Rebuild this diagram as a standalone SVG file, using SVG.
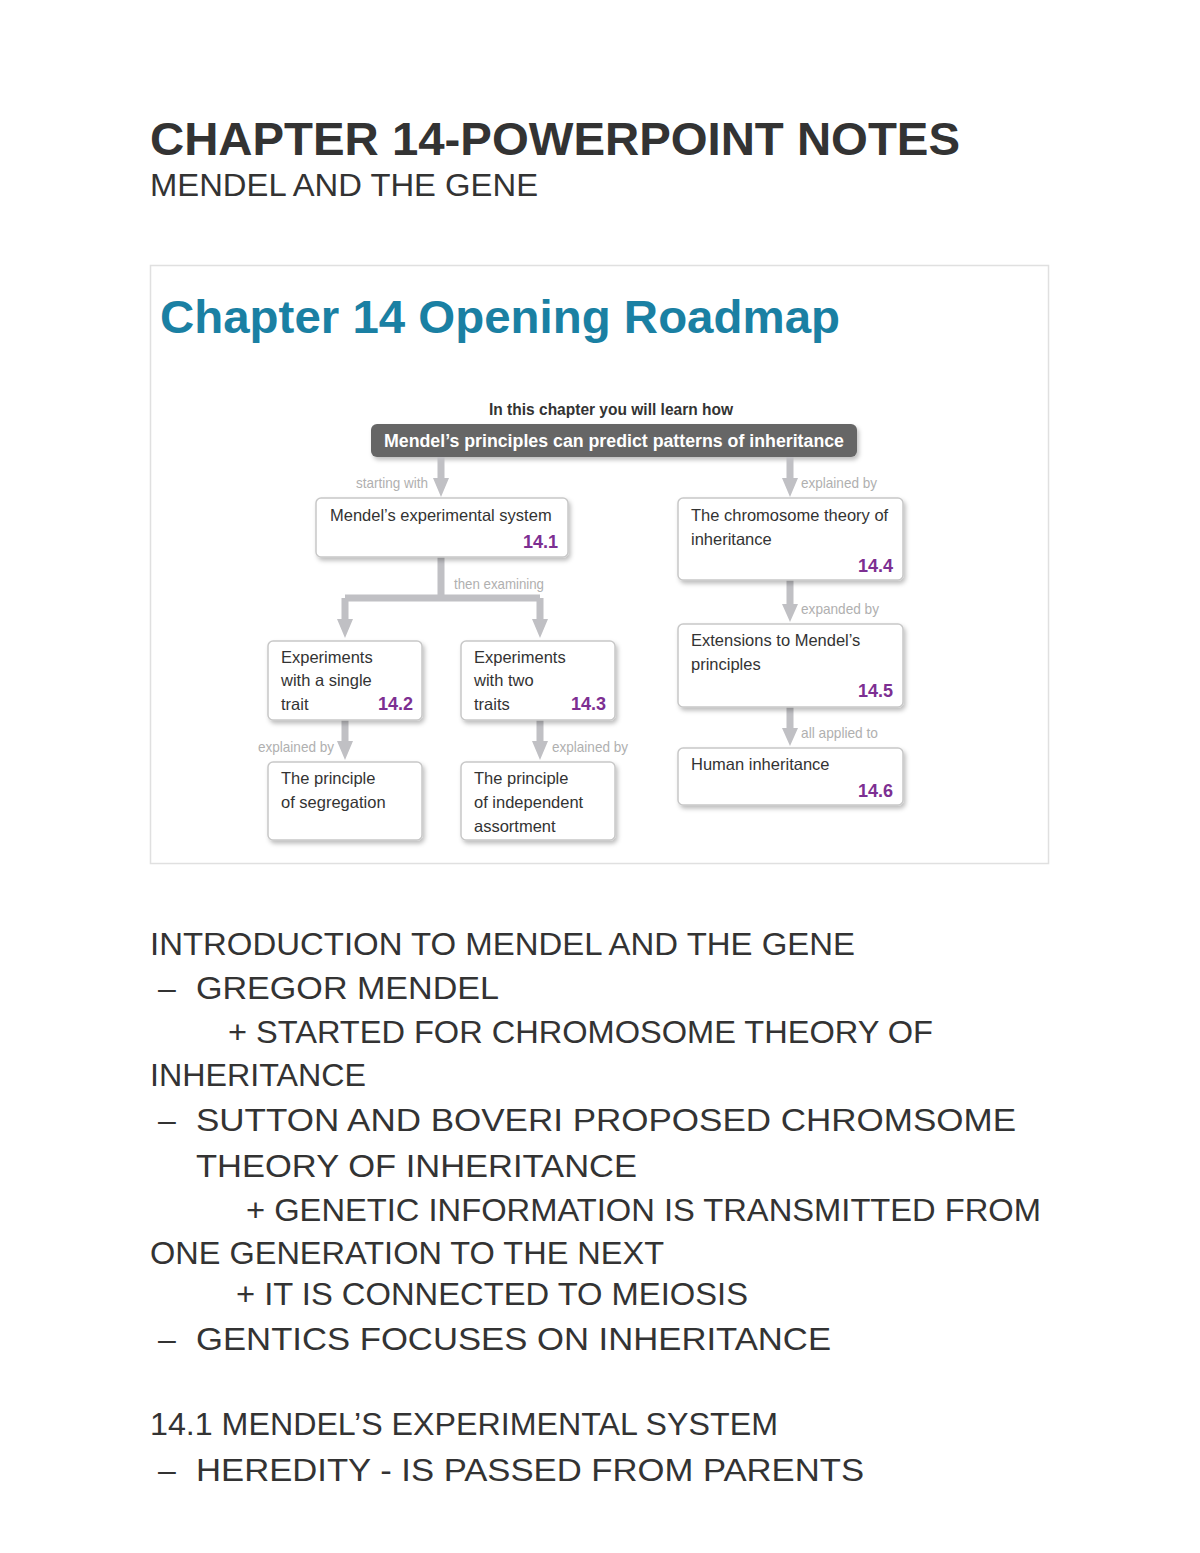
<svg xmlns="http://www.w3.org/2000/svg" width="1200" height="1553" viewBox="0 0 1200 1553">
<style>
.h{font-family:"Liberation Sans",Arial,sans-serif;fill:#333}
.b{font-family:"Liberation Sans",Arial,sans-serif;font-size:32px;fill:#333}
.n{font-family:"Liberation Sans",Arial,sans-serif;font-size:16.5px;fill:#333}
.num{font-family:"Liberation Sans",Arial,sans-serif;font-size:18px;font-weight:bold;fill:#7d2f92;text-anchor:end}
.lab{font-family:"Liberation Sans",Arial,sans-serif;font-size:15px;fill:#b0b0b0}
.box{fill:#fff;stroke:#c8c8c8;stroke-width:1.5;filter:url(#sh)}
.ln{stroke:#c0c0c4;stroke-width:7;fill:none}
.ah{fill:#c0c0c4}
</style>
<defs>
<filter id="sh" x="-10%" y="-10%" width="130%" height="140%"><feDropShadow dx="2" dy="3" stdDeviation="2" flood-color="#000" flood-opacity="0.25"/></filter>
</defs>
<rect width="1200" height="1553" fill="#fff"/>
<text class="h" x="150" y="155" font-size="46" font-weight="bold" textLength="810" lengthAdjust="spacingAndGlyphs">CHAPTER 14-POWERPOINT NOTES</text>
<text class="h" x="150" y="196" font-size="31" textLength="388" lengthAdjust="spacingAndGlyphs">MENDEL AND THE GENE</text>
<rect x="150.5" y="265.5" width="898" height="598" fill="#fff" stroke="#e0e0e0" stroke-width="1.5"/>
<text x="160" y="333" font-family="Liberation Sans,Arial,sans-serif" font-size="46" font-weight="bold" fill="#1a80a3" textLength="680" lengthAdjust="spacingAndGlyphs">Chapter 14 Opening Roadmap</text>
<text x="611" y="415" font-family="Liberation Sans,Arial,sans-serif" font-size="16" font-weight="bold" fill="#333" text-anchor="middle" textLength="244" lengthAdjust="spacingAndGlyphs">In this chapter you will learn how</text>
<g id="top"><rect x="371" y="424" width="486" height="33" rx="6" fill="#666" filter="url(#sh)"/>
<text x="614" y="447" font-family="Liberation Sans,Arial,sans-serif" font-size="18" font-weight="bold" fill="#fff" text-anchor="middle" textLength="460" lengthAdjust="spacingAndGlyphs">Mendel’s principles can predict patterns of inheritance</text></g>
<g id="connectors">
<path class="ln" d="M441 457V482M790 457V482M441 557V598M345 598H540M345 598V622M540 598V622M790 580V606M790 707V730M345 720V744M540 720V744"/>
<path class="ah" d="M433 478H449L441 497ZM782 478H798L790 497ZM337 619H353L345 638ZM532 619H548L540 638ZM782 604H798L790 622ZM782 728H798L790 746ZM337 741H353L345 760ZM532 741H548L540 760Z"/>
<text class="lab" x="428" y="488" text-anchor="end" textLength="72" lengthAdjust="spacingAndGlyphs">starting with</text>
<text class="lab" x="801" y="488" textLength="76" lengthAdjust="spacingAndGlyphs">explained by</text>
<text class="lab" x="454" y="589" textLength="90" lengthAdjust="spacingAndGlyphs">then examining</text>
<text class="lab" x="801" y="614" textLength="78" lengthAdjust="spacingAndGlyphs">expanded by</text>
<text class="lab" x="801" y="738" textLength="77" lengthAdjust="spacingAndGlyphs">all applied to</text>
<text class="lab" x="334" y="752" text-anchor="end" textLength="76" lengthAdjust="spacingAndGlyphs">explained by</text>
<text class="lab" x="552" y="752" textLength="76" lengthAdjust="spacingAndGlyphs">explained by</text>
</g>
<g id="n141"><rect class="box" x="316" y="498" width="252" height="59" rx="5"/><text class="n" x="330" y="521">Mendel’s experimental system</text><text class="num" x="558" y="548">14.1</text></g>
<g id="n144"><rect class="box" x="678" y="498" width="225" height="82" rx="5"/><text class="n" x="691" y="521">The chromosome theory of</text><text class="n" x="691" y="545">inheritance</text><text class="num" x="893" y="572">14.4</text></g>
<g id="n145"><rect class="box" x="678" y="624" width="225" height="83" rx="5"/><text class="n" x="691" y="646">Extensions to Mendel’s</text><text class="n" x="691" y="670">principles</text><text class="num" x="893" y="697">14.5</text></g>
<g id="n146"><rect class="box" x="678" y="748" width="225" height="57" rx="5"/><text class="n" x="691" y="770">Human inheritance</text><text class="num" x="893" y="797">14.6</text></g>
<g id="n142"><rect class="box" x="268" y="641" width="154" height="79" rx="5"/><text class="n" x="281" y="663">Experiments</text><text class="n" x="281" y="686">with a single</text><text class="n" x="281" y="710">trait</text><text class="num" x="413" y="710">14.2</text></g>
<g id="n143"><rect class="box" x="461" y="641" width="154" height="79" rx="5"/><text class="n" x="474" y="663">Experiments</text><text class="n" x="474" y="686">with two</text><text class="n" x="474" y="710">traits</text><text class="num" x="606" y="710">14.3</text></g>
<g id="nseg"><rect class="box" x="268" y="762" width="154" height="78" rx="5"/><text class="n" x="281" y="784">The principle</text><text class="n" x="281" y="808">of segregation</text></g>
<g id="nind"><rect class="box" x="461" y="762" width="154" height="78" rx="5"/><text class="n" x="474" y="784">The principle</text><text class="n" x="474" y="808">of independent</text><text class="n" x="474" y="832">assortment</text></g>
<text class="b" x="150" y="955" textLength="705" lengthAdjust="spacingAndGlyphs">INTRODUCTION TO MENDEL AND THE GENE</text>
<text class="b" x="158" y="999">–</text><text class="b" x="196" y="999" textLength="303" lengthAdjust="spacingAndGlyphs">GREGOR MENDEL</text>
<text class="b" x="228" y="1043" textLength="705" lengthAdjust="spacingAndGlyphs">+ STARTED FOR CHROMOSOME THEORY OF</text>
<text class="b" x="150" y="1086" textLength="216" lengthAdjust="spacingAndGlyphs">INHERITANCE</text>
<text class="b" x="158" y="1131">–</text><text class="b" x="196" y="1131" textLength="820" lengthAdjust="spacingAndGlyphs">SUTTON AND BOVERI PROPOSED CHROMSOME</text>
<text class="b" x="196" y="1177" textLength="441" lengthAdjust="spacingAndGlyphs">THEORY OF INHERITANCE</text>
<text class="b" x="246" y="1221" textLength="795" lengthAdjust="spacingAndGlyphs">+ GENETIC INFORMATION IS TRANSMITTED FROM</text>
<text class="b" x="150" y="1264" textLength="514" lengthAdjust="spacingAndGlyphs">ONE GENERATION TO THE NEXT</text>
<text class="b" x="236" y="1305" textLength="512" lengthAdjust="spacingAndGlyphs">+ IT IS CONNECTED TO MEIOSIS</text>
<text class="b" x="158" y="1350">–</text><text class="b" x="196" y="1350" textLength="635" lengthAdjust="spacingAndGlyphs">GENTICS FOCUSES ON INHERITANCE</text>
<text class="b" x="150" y="1435" textLength="628" lengthAdjust="spacingAndGlyphs">14.1 MENDEL’S EXPERIMENTAL SYSTEM</text>
<text class="b" x="158" y="1481">–</text><text class="b" x="196" y="1481" textLength="668" lengthAdjust="spacingAndGlyphs">HEREDITY - IS PASSED FROM PARENTS</text>
</svg>
